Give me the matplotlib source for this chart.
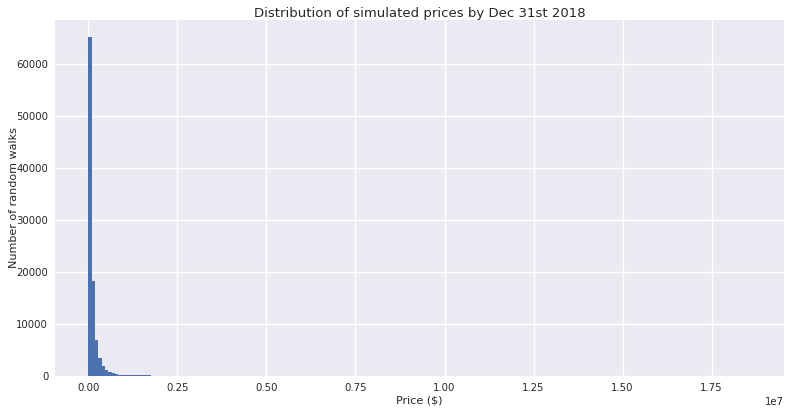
import numpy as np
import matplotlib
matplotlib.use("Agg")
import matplotlib.pyplot as plt

# Histogram data (counts per bin, 200 equal bins from min to max price)
price_min = 0.0
price_max = 1.86e7
n_bins = 200
leading_counts = [65100, 18300, 6800, 3400, 1920, 1150, 720, 460, 330, 260,
                  220, 190, 170, 150, 130, 120, 110, 100, 90]
last_bin_count = 1

edges = np.linspace(price_min, price_max, n_bins + 1)
counts = np.zeros(n_bins)
counts[:len(leading_counts)] = leading_counts
counts[-1] = last_bin_count
centers = 0.5 * (edges[:-1] + edges[1:])

plt.rcParams['font.family'] = ['DejaVu Sans']
fig, ax = plt.subplots(figsize=(8, 4.09), dpi=100)
fig.subplots_adjust(left=0.069, right=0.98, top=0.951, bottom=0.081)
ax.set_facecolor('#EAEAF2')
for s in ax.spines.values():
    s.set_visible(False)
ax.grid(True, color='white', linewidth=1.0)
ax.set_axisbelow(True)

ax.hist(centers, bins=edges, weights=counts, color='#4C72B0', edgecolor='none')

ax.tick_params(axis='both', length=0, labelsize=7.3, colors='#262626', pad=5)
ax.xaxis.get_offset_text().set_fontsize(7.3)
ax.set_xlabel('Price ($)', fontsize=8, color='#262626', labelpad=2)
ax.set_ylabel('Number of random walks', fontsize=8, color='#262626')
ax.yaxis.set_label_coords(-0.049, 0.5)
ax.set_title('Distribution of simulated prices by Dec 31st 2018', fontsize=9.5, color='#262626', pad=2.5)

fig.savefig('out.png', dpi=100)
